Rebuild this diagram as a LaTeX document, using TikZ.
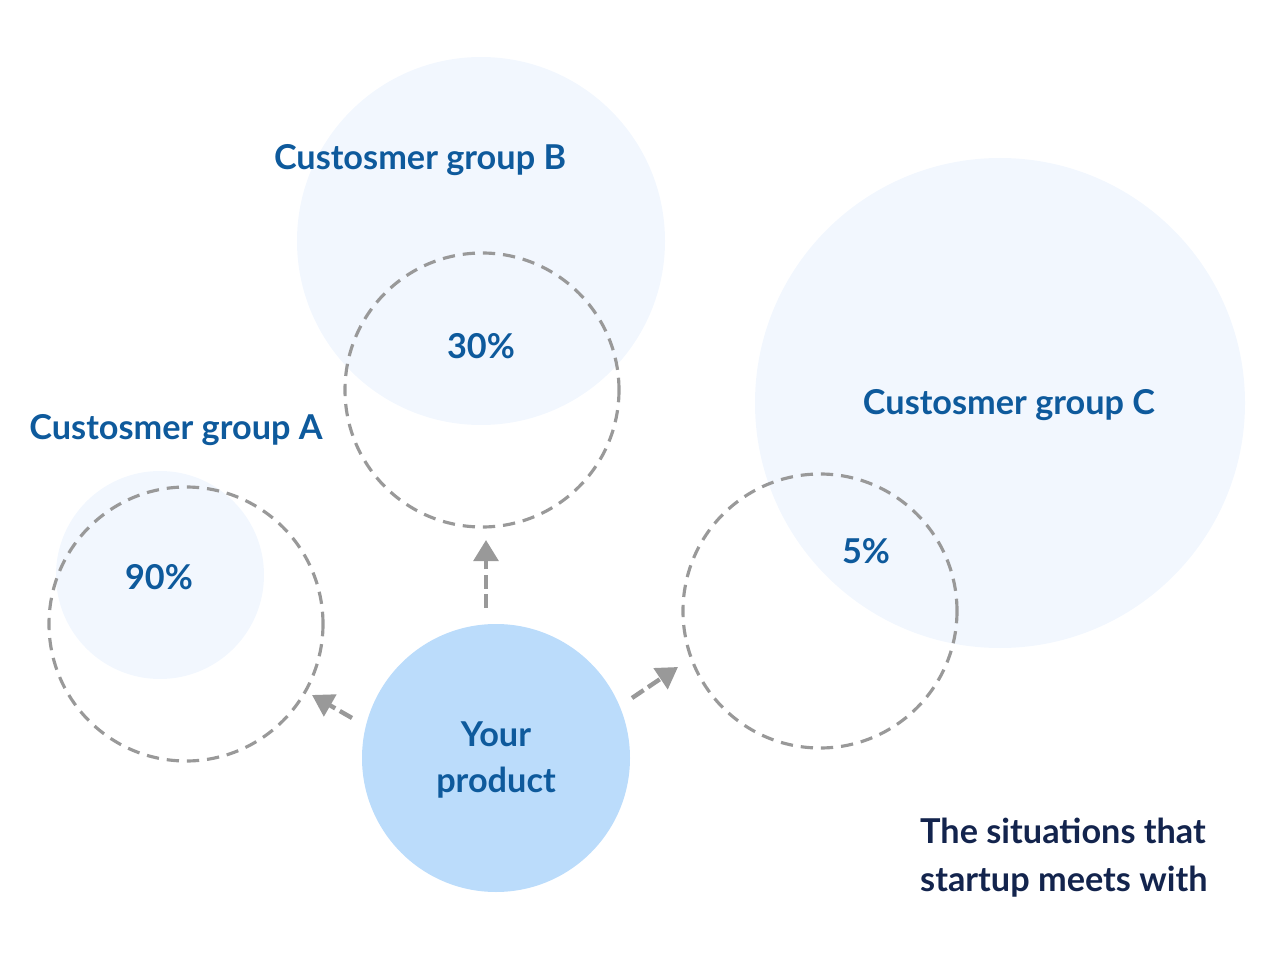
\documentclass[tikz,border=0pt]{standalone}
\usepackage{fontspec}
\setmainfont{Lato}
\usetikzlibrary{arrows.meta}
\definecolor{bigfill}{HTML}{F2F7FE}
\definecolor{prodfill}{HTML}{BBDCFB}
\definecolor{txtblue}{HTML}{0E5A9C}
\definecolor{navy}{HTML}{13244D}
\definecolor{dash}{HTML}{999999}
\tikzset{
  big/.style={circle,fill=bigfill,draw=none,inner sep=0pt},
  dc/.style={circle,draw=dash,line width=1.8pt,dash pattern=on 7pt off 4.5pt,inner sep=0pt},
  lab/.style={text=txtblue,font=\fontsize{19.5}{26}\selectfont\bfseries},
  arr/.style={draw=dash,line width=2.5pt,dash pattern=on 8pt off 3pt,-{Triangle[length=12pt,width=14pt]}}
}
\begin{document}
\begin{tikzpicture}[x=0.02cm,y=-0.02cm]
\useasboundingbox (0,0) rectangle (1265,956);
\node[big,minimum size=368*0.02cm] (bB) at (481,241) {};
\node[big,minimum size=490*0.02cm] (bC) at (1000,403) {};
\node[big,minimum size=208*0.02cm] (bA) at (160,575) {};
\node[dc,minimum size=274*0.02cm] (dA) at (186,624) {};
\node[dc,minimum size=274*0.02cm] (dB) at (482,390) {};
\node[dc,minimum size=274*0.02cm] (dC) at (820,611) {};
\node[circle,fill=prodfill,minimum size=268*0.02cm,inner sep=0pt] (p) at (496,758) {};
\node[lab,align=center] (pt) at (496,760) {Your\\product};
\node[lab] (lB) at (420,160) {Custosmer group B};
\node[lab] (lA) at (176,430) {Custosmer group A};
\node[lab] (lC) at (1009,405) {Custosmer group C};
\node[lab] (vB) at (481,346) {30\%};
\node[lab] (vA) at (159,577) {90\%};
\node[lab] (vC) at (866,551) {5\%};
\node[text=navy,font=\fontsize{19.5}{27}\selectfont\bfseries,align=left,anchor=north west] (note) at (914,812) {The situations that\\startup meets with};
\coordinate (s1) at (486,608); \coordinate (e1) at (486,540);
\coordinate (s2) at (352,718); \coordinate (e2) at (312,695);
\coordinate (s3) at (632,698); \coordinate (e3) at (678,667);
\draw[arr] (s1) -- (e1);
\draw[arr] (s2) -- (e2);
\draw[arr] (s3) -- (e3);
\end{tikzpicture}
\end{document}
